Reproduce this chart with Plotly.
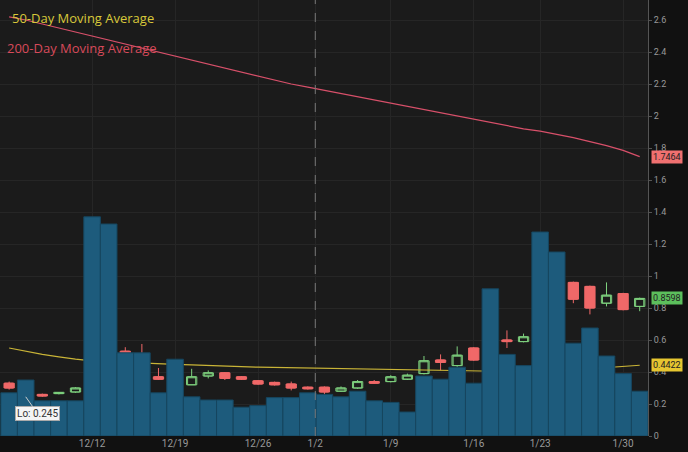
import plotly.graph_objects as go

idx = list(range(39))
opens  = [0.33,0.306,0.26,0.265,0.275,0.33,0.59,0.53,0.51,0.37,0.355,0.32,0.375,0.395,0.37,0.345,0.335,0.325,0.305,0.305,0.28,0.30,0.34,0.34,0.355,0.39,0.475,0.44,0.55,0.59,0.60,0.59,0.62,0.89,0.96,0.935,0.83,0.89,0.81]
closes = [0.30,0.26,0.25,0.27,0.30,0.46,0.53,0.51,0.49,0.355,0.33,0.37,0.395,0.36,0.355,0.325,0.32,0.30,0.295,0.275,0.30,0.34,0.33,0.37,0.38,0.47,0.46,0.505,0.475,0.61,0.59,0.62,0.925,0.94,0.855,0.80,0.88,0.79,0.8598]
highs  = [0.34,0.31,0.265,0.275,0.305,0.525,0.675,0.555,0.575,0.425,0.36,0.42,0.41,0.40,0.375,0.35,0.34,0.34,0.31,0.31,0.31,0.35,0.35,0.38,0.39,0.50,0.51,0.56,0.555,0.66,0.66,0.64,0.975,1.13,0.965,0.94,0.96,0.895,0.865]
lows   = [0.29,0.245,0.245,0.26,0.27,0.33,0.49,0.455,0.48,0.35,0.325,0.32,0.36,0.35,0.35,0.32,0.315,0.285,0.29,0.23,0.275,0.295,0.325,0.335,0.35,0.385,0.41,0.43,0.47,0.55,0.55,0.585,0.60,0.84,0.83,0.76,0.81,0.785,0.78]
volume = [0.27,0.35,0.22,0.22,0.22,1.37,1.325,0.52,0.52,0.27,0.48,0.245,0.225,0.225,0.18,0.19,0.24,0.24,0.27,0.26,0.245,0.28,0.22,0.21,0.15,0.375,0.355,0.43,0.33,0.92,0.51,0.44,1.275,1.15,0.58,0.675,0.50,0.39,0.28]
ma50   = [0.55,0.53,0.51,0.495,0.48,0.47,0.465,0.46,0.455,0.45,0.448,0.445,0.44,0.436,0.433,0.43,0.428,0.426,0.424,0.422,0.42,0.418,0.416,0.414,0.412,0.41,0.408,0.406,0.405,0.404,0.403,0.402,0.40,0.405,0.412,0.42,0.428,0.435,0.4422]
ma200  = [2.62,2.60,2.575,2.55,2.525,2.50,2.475,2.45,2.425,2.40,2.375,2.35,2.325,2.30,2.275,2.25,2.225,2.20,2.18,2.16,2.14,2.12,2.10,2.08,2.06,2.04,2.02,2.00,1.98,1.96,1.94,1.92,1.905,1.885,1.865,1.84,1.815,1.785,1.7464]
tick_pos = [5,10,15,18.45,23,28,32,37]
tick_txt = ["12/12","12/19","12/26","1/2","1/9","1/16","1/23","1/30"]

GREEN, RED = "#7ed17e", "#f06868"
up = [c >= o for o, c in zip(opens, closes)]
body_base = [min(o, c) for o, c in zip(opens, closes)]
body_h = [max(abs(c - o), 0.008) for o, c in zip(opens, closes)]

fig = go.Figure()
fig.add_bar(x=idx, y=volume, width=1.0, marker=dict(color="#1d5b7c", line=dict(color="#16465f", width=1)), yaxis="y2", hoverinfo="skip")
fig.add_trace(go.Candlestick(x=idx, open=opens, high=highs, low=lows, close=closes,
    increasing=dict(line=dict(color=GREEN, width=1), fillcolor="rgba(0,0,0,0)"),
    decreasing=dict(line=dict(color=RED, width=1), fillcolor=RED), whiskerwidth=0))
fig.add_bar(x=idx, y=body_h, base=body_base, width=0.62,
            marker=dict(color=["#1b1b1b" if u else RED for u in up],
                        line=dict(color=[GREEN if u else RED for u in up], width=1)), hoverinfo="skip")
fig.add_scatter(x=idx, y=ma50, mode="lines", line=dict(color="#c9b437", width=1.2))
fig.add_scatter(x=idx, y=ma200, mode="lines", line=dict(color="#d8506a", width=1.2))

fig.add_vline(x=18.45, line=dict(color="#777", width=1, dash="dash"))
fig.update_layout(
    width=688, height=452, margin=dict(l=0, r=40, t=0, b=16, autoexpand=False),
    paper_bgcolor="#111111", plot_bgcolor="#1b1b1b", showlegend=False, barmode="overlay",
    xaxis=dict(range=[-0.55, 38.5], tickvals=tick_pos, ticktext=tick_txt, rangeslider=dict(visible=False),
               automargin=False, ticklen=0, ticks="",
               showgrid=True, gridcolor="#262626", tickfont=dict(color="#999", size=10, family="Roboto"), zeroline=False),
    yaxis=dict(side="right", range=[0, 2.725], tickvals=[i/5 for i in range(14)], automargin=False,
               ticktext=["0","0.2","0.4","0.6","0.8","1","1.2","1.4","1.6","1.8","2","2.2","2.4","2.6"],
               showgrid=True, gridcolor="#262626", tickfont=dict(color="#999", size=9, family="Roboto"),
               showline=True, linecolor="#555", ticks="outside", ticklen=3, tickcolor="#555", zeroline=False),
    yaxis2=dict(overlaying="y", range=[0, 2.725], visible=False),
    font=dict(family="Open Sans"),
)
anns = [
    dict(x=0.016, y=0.985, text="50-Day Moving Average", color="#d8c83a"),
    dict(x=0.008, y=0.915, text="200-Day Moving Average", color="#d84a5a"),
]
for a in anns:
    fig.add_annotation(xref="paper", yref="paper", x=a["x"], y=a["y"], text=a["text"], showarrow=False,
                       xanchor="left", yanchor="top", font=dict(color=a["color"], size=13, family="Open Sans"))
for val, bg, txt in [(1.7464, "#f07070", "1.7464"), (0.8598, "#5cbf5c", "0.8598"), (0.4422, "#e6c630", "0.4422")]:
    fig.add_annotation(xref="paper", yref="y", x=1.0, y=val, text=txt, showarrow=False, xanchor="left", xshift=3,
                       bgcolor=bg, font=dict(color="#222", size=9, family="Roboto"), borderpad=1)
fig.add_annotation(x=1, y=0.245, text="Lo: 0.245", showarrow=True, ax=12, ay=17, arrowcolor="#ccc", arrowhead=0,
                   bgcolor="#f5f5f5", bordercolor="#aaa", font=dict(color="#333", size=10, family="Roboto"), borderpad=1)
fig.write_html("out.html", config={"displayModeBar": False},
               post_script="document.body.style.margin='0';document.body.style.background='#111111';")
